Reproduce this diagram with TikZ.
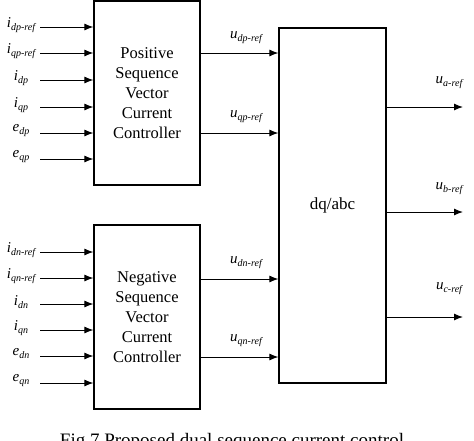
\documentclass[tikz,border=0pt]{standalone}
\usepackage{fontspec}
\setmainfont{Liberation Serif}
\usetikzlibrary{arrows.meta}
\newcommand{\lab}[2]{{\fontsize{15}{15}\selectfont\itshape #1}\raisebox{-3pt}{\fontsize{10}{10}\selectfont\itshape #2}}
\tikzset{
  blk/.style={draw, line width=1.2pt, inner sep=0pt, align=center,
    font=\fontsize{16.5}{20}\selectfont},
  sig/.style={line width=1pt, -{Latex[length=9pt,width=7pt]}},
  lbl/.style={inner sep=0pt}
}
\begin{document}
\begin{tikzpicture}[x=1pt,y=-1pt]
\useasboundingbox (0,0) rectangle (474,440);
\clip (0,0) rectangle (474,440);
% blocks
\node[blk, minimum width=106pt, minimum height=184pt] (P) at (147,93)
  {Positive\\Sequence\\Vector\\Current\\Controller};
\node[blk, minimum width=106pt, minimum height=184pt] (N) at (147,317)
  {Negative\\Sequence\\Vector\\Current\\Controller};
\node[blk, minimum width=107pt, minimum height=355pt,
  font=\fontsize{17}{20}\selectfont] (T) at (332.5,205.5) {dq/abc};
% positive inputs
\foreach \n/\y/\m/\s in {p1/27/i/dp-ref, p2/53/i/qp-ref, p3/80/i/dp, p4/107/i/qp, p5/133/e/dp, p6/159/e/qp}{
  \coordinate (\n) at (40,\y);
  \node[lbl] (\n l) at (21,\y-2) {\lab{\m}{\s}};
  \draw[sig] (\n) -- (\n -| P.west);
}
% negative inputs
\foreach \n/\y/\m/\s in {n1/252/i/dn-ref, n2/278/i/qn-ref, n3/304/i/dn, n4/330/i/qn, n5/356/e/dn, n6/383/e/qn}{
  \coordinate (\n) at (40,\y);
  \node[lbl] (\n l) at (21,\y-2) {\lab{\m}{\s}};
  \draw[sig] (\n) -- (\n -| N.west);
}
% controller outputs
\coordinate (o1) at (200,53);
\coordinate (o2) at (200,133);
\coordinate (o3) at (200,279);
\coordinate (o4) at (200,357);
\draw[sig] (o1) -- (o1 -| T.west);
\draw[sig] (o2) -- (o2 -| T.west);
\draw[sig] (o3) -- (o3 -| T.west);
\draw[sig] (o4) -- (o4 -| T.west);
\node[lbl] (o1l) at (246,38) {\lab{u}{dp-ref}};
\node[lbl] (o2l) at (246,117) {\lab{u}{qp-ref}};
\node[lbl] (o3l) at (246,263) {\lab{u}{dn-ref}};
\node[lbl] (o4l) at (246,341) {\lab{u}{qn-ref}};
% dq/abc outputs
\coordinate (a) at (463,107);
\coordinate (b) at (463,212);
\coordinate (c) at (463,317);
\draw[sig] (a -| T.east) -- (a);
\draw[sig] (b -| T.east) -- (b);
\draw[sig] (c -| T.east) -- (c);
\node[lbl] (al) at (449,83) {\lab{u}{a-ref}};
\node[lbl] (bl) at (449,189) {\lab{u}{b-ref}};
\node[lbl] (cl) at (449,289) {\lab{u}{c-ref}};
% caption (cut off at the bottom edge, as in the reference)
\node[anchor=north, inner sep=0pt, font=\fontsize{19}{22}\selectfont] (cap) at (232,433.5)
  {Fig.7 Proposed dual sequence current control};
\end{tikzpicture}
\end{document}
